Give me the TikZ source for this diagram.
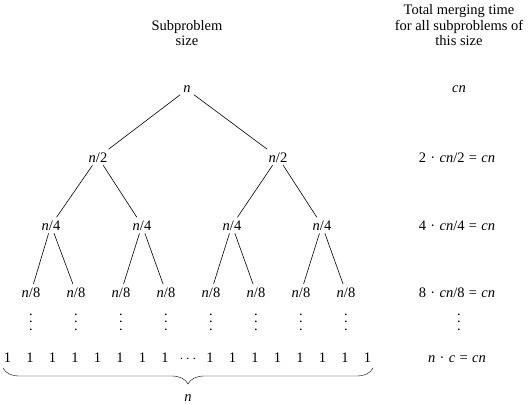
\documentclass[tikz,border=0pt]{standalone}
\usepackage{fontspec}
\setmainfont{Liberation Serif}
\usepackage{tikz}
\usetikzlibrary{decorations.pathreplacing}

\newcommand{\opsp}{\hspace{0.3em}}
\newcommand{\tallvdots}{\vbox{\baselineskip=7.5pt\lineskiplimit=-10pt\hbox{.}\hbox{.}\hbox{.}}}

\begin{document}
\begin{tikzpicture}[x=1pt,y=-1pt,font=\fontsize{14.5}{15.5}\selectfont]
\tikzset{lbl/.style={anchor=base, inner sep=3pt},
  dts/.style={inner sep=0pt}}
\useasboundingbox (0,0) rectangle (528,404);
% headers
\node (hl) at (187,46) [lbl, align=center] {Subproblem\\size};
\node (hr) at (459,46) [lbl, align=center] {Total merging time\\for all subproblems of\\this size};
% tree
\node (0) at (187,93) [lbl] {\textit{n}};
\node (1) at (98,162) [lbl] {\textit{n}/2};
\node (2) at (278,162) [lbl] {\textit{n}/2};
\node (3) at (51,230) [lbl] {\textit{n}/4};
\node (4) at (142,230) [lbl] {\textit{n}/4};
\node (5) at (232,230) [lbl] {\textit{n}/4};
\node (6) at (322,230) [lbl] {\textit{n}/4};
\node (7) at (31,297) [lbl] {\textit{n}/8};
\node (8) at (76,297) [lbl] {\textit{n}/8};
\node (9) at (121,297) [lbl] {\textit{n}/8};
\node (10) at (166,297) [lbl] {\textit{n}/8};
\node (11) at (211,297) [lbl] {\textit{n}/8};
\node (12) at (256,297) [lbl] {\textit{n}/8};
\node (13) at (301,297) [lbl] {\textit{n}/8};
\node (14) at (346,297) [lbl] {\textit{n}/8};
\draw[semithick]
(0) to (1)
(0) to (2)
(1) to (3)
(1) to (4)
(2) to (5)
(2) to (6)
(3) to (7)
(3) to (8)
(4) to (9)
(4) to (10)
(5) to (11)
(5) to (12)
(6) to (13)
(6) to (14);
% dots and leaves
\foreach \x in {31,76,121,166,211,256,301,346}
  \node at (\x,322) [dts] {\tallvdots};
\foreach \x [count=\i] in {7.5,30,52.5,75,97.5,120,142.5,165,210,232.5,255,277.5,300,322.5,345,367.5}
  \node (l\i) at (\x,362) [lbl] {1};
\node (ld) at (188,362) [lbl] {$\cdots$};
\coordinate (bl) at (3,368);
\coordinate (br) at (373,368);
\draw[decorate, decoration={brace, mirror, amplitude=16pt}]
(bl) -- (br);
\node (nb) at (188,401) [lbl] {\textit{n}};
% merge costs
\node (c0) at (459,93) [lbl] {\textit{cn}};
\node (c1) at (457,162) [lbl] {2\opsp·\opsp\textit{cn}/2\opsp=\opsp\textit{cn}};
\node (c2) at (457,230) [lbl] {4\opsp·\opsp\textit{cn}/4\opsp=\opsp\textit{cn}};
\node (c3) at (457,297) [lbl] {8\opsp·\opsp\textit{cn}/8\opsp=\opsp\textit{cn}};
\node (c4) at (459,322) [dts] {\tallvdots};
\node (c5) at (457,362) [lbl] {\textit{n}\opsp·\opsp\textit{c}\opsp=\opsp\textit{cn}};
\end{tikzpicture}
\end{document}
